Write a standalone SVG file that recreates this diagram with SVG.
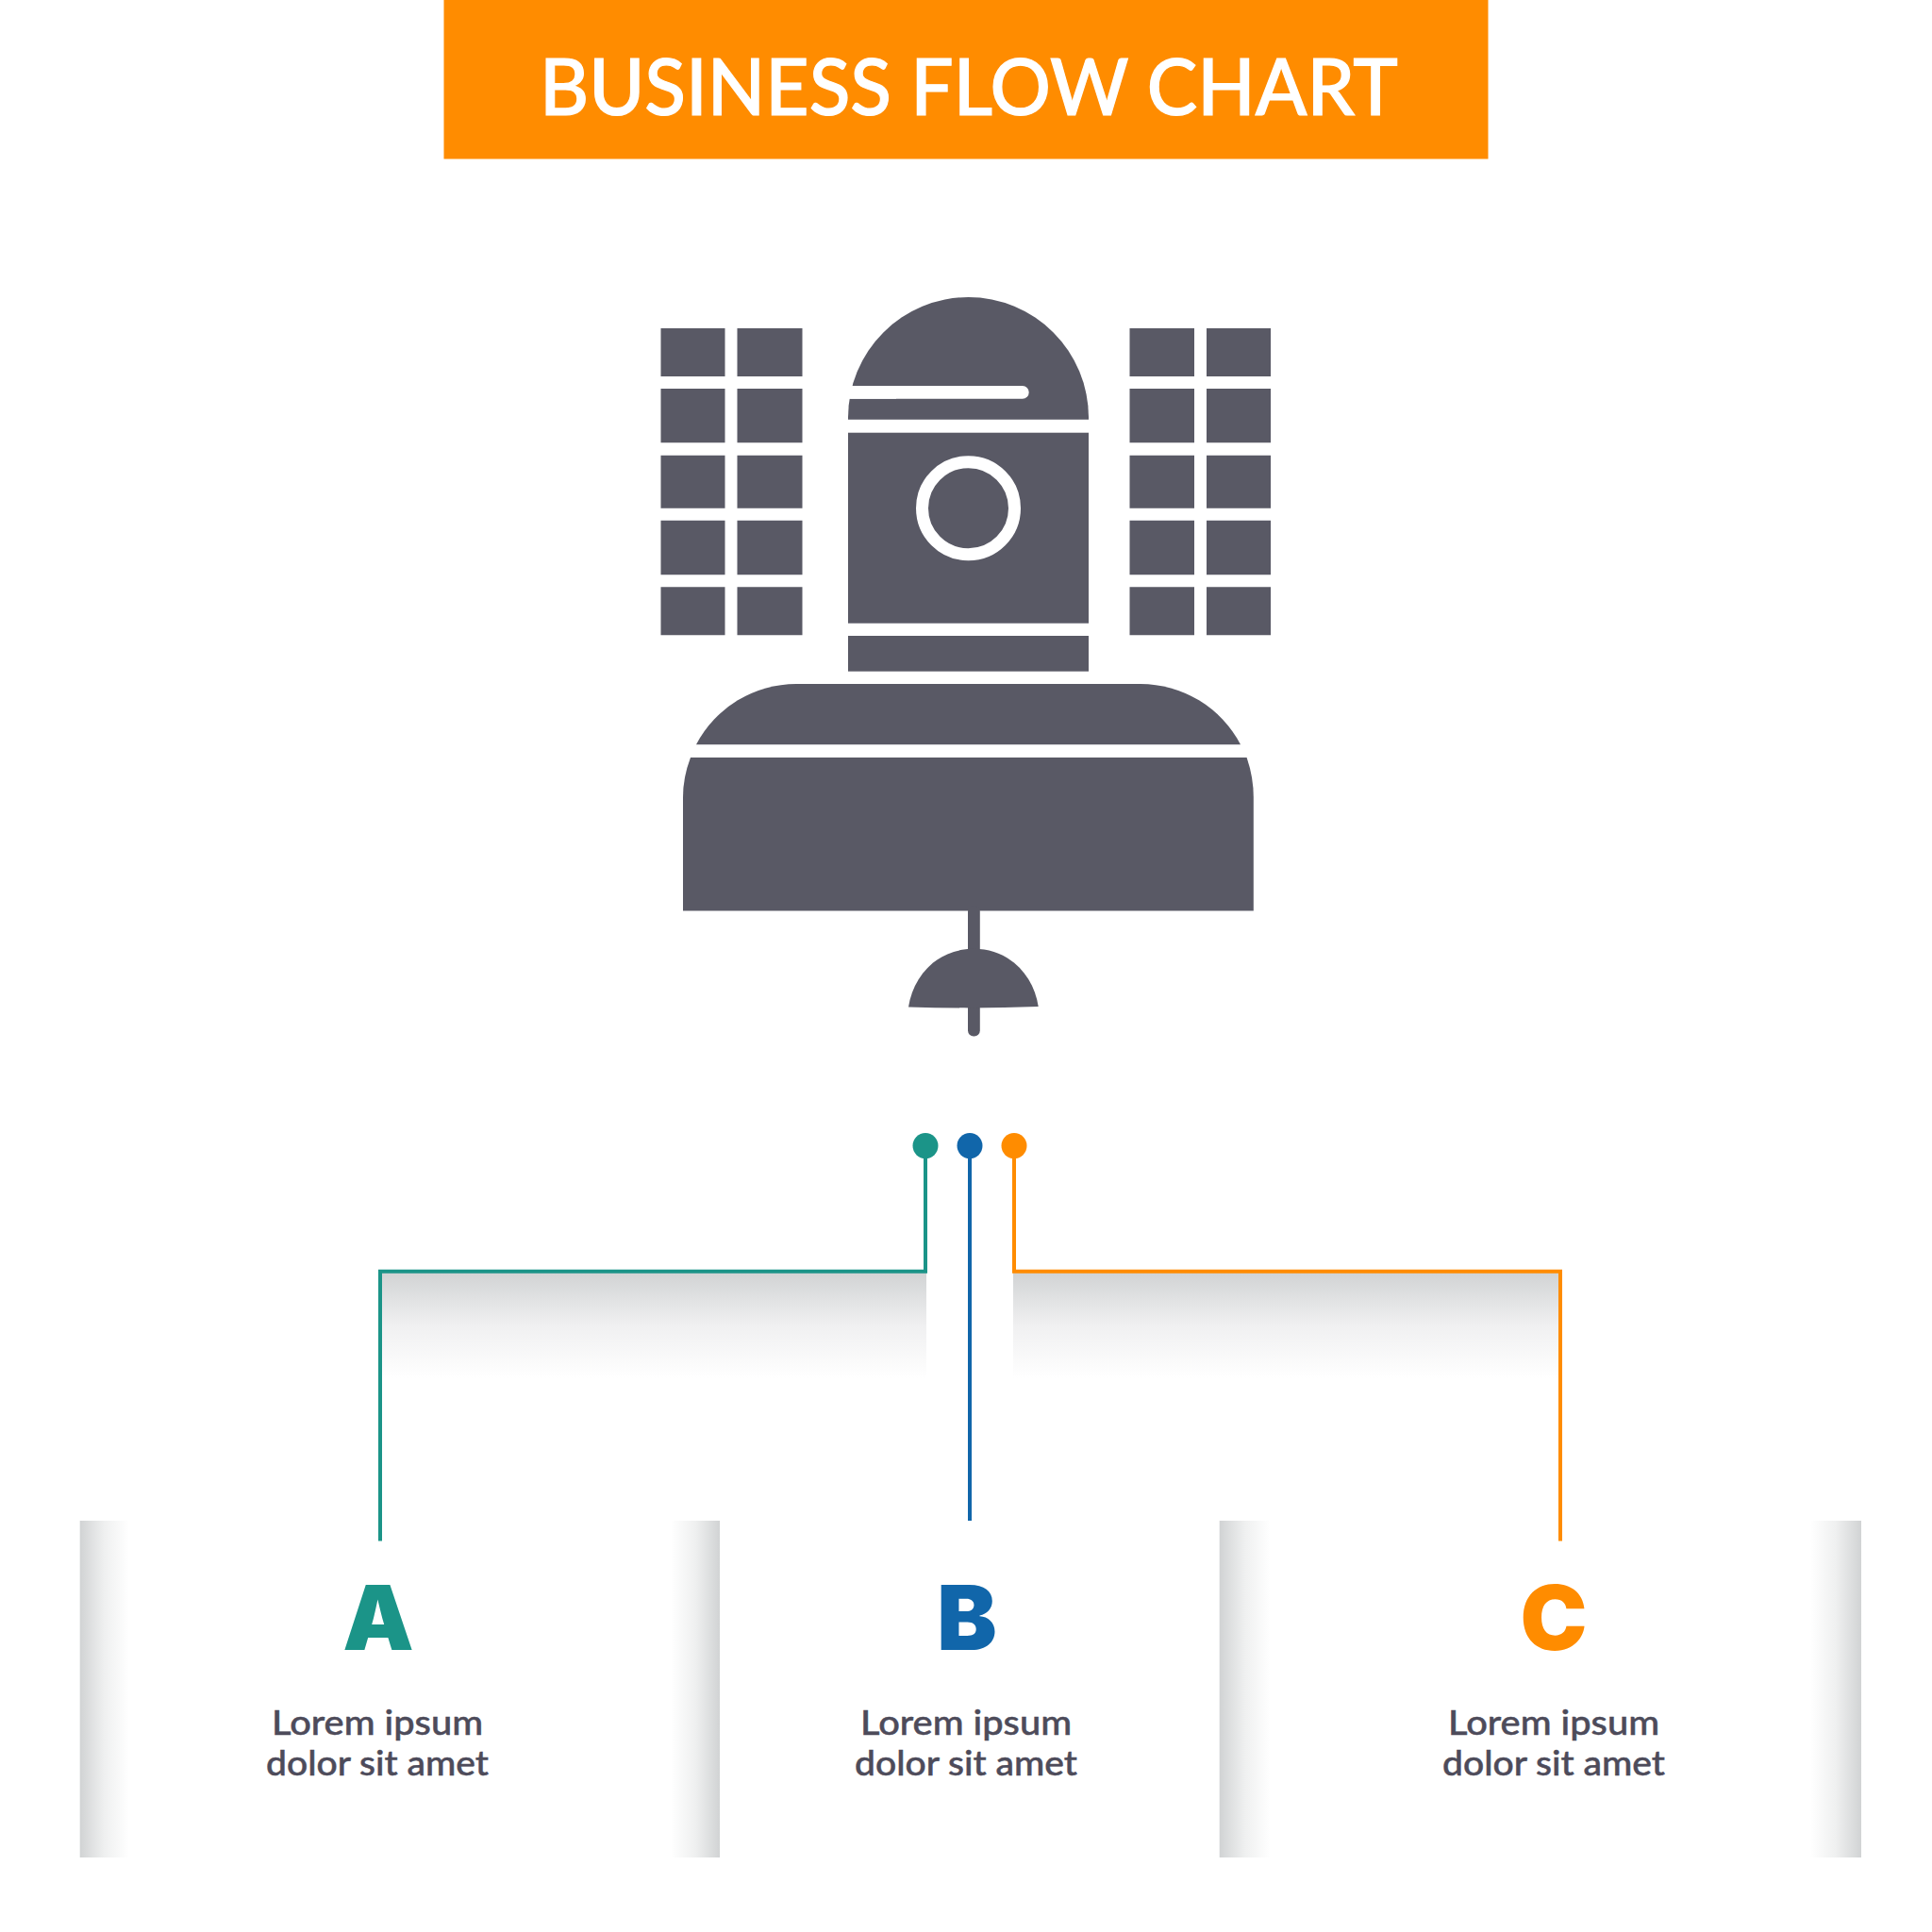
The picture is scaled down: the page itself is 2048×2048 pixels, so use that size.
<svg xmlns="http://www.w3.org/2000/svg" width="2048" height="2048" viewBox="0 0 2048 2048">
<defs>
<linearGradient id="gd" x1="0" y1="0" x2="0" y2="1"><stop offset="0" stop-color="#d1d3d4"/><stop offset="0.5" stop-color="#f0f0f1"/><stop offset="1" stop-color="#fff"/></linearGradient>
<linearGradient id="gl" x1="0" y1="0" x2="1" y2="0"><stop offset="0" stop-color="#d1d3d4"/><stop offset="0.5" stop-color="#eff0f0"/><stop offset="1" stop-color="#fff"/></linearGradient>
<linearGradient id="gr" x1="1" y1="0" x2="0" y2="0"><stop offset="0" stop-color="#d1d3d4"/><stop offset="0.5" stop-color="#eff0f0"/><stop offset="1" stop-color="#fff"/></linearGradient>
</defs>
<style>
.ic{fill:#595965}
.t{font-family:"Lato","Liberation Sans",sans-serif;font-size:37px;font-weight:500;fill:#4d4b5a;stroke:#4d4b5a;stroke-width:.5px;text-anchor:middle}
.l{font-family:"Inter","Liberation Sans",sans-serif;font-size:95px;font-weight:900;text-anchor:middle}
.c{fill:none;stroke-width:4}
</style>
<rect width="2048" height="2048" fill="#fff"/>
<g id="header">
<rect x="470.500" y="0" width="1107" height="168.500" fill="#ff8c00"/>
<text x="1027" y="122" font-family="Lato, 'Liberation Sans', sans-serif" font-size="84" font-weight="500" fill="#fff" stroke="#fff" stroke-width="1.200" text-anchor="middle" textLength="910" lengthAdjust="spacingAndGlyphs">BUSINESS FLOW CHART</text>
</g>
<g id="shadows">
<rect x="403" y="1349" width="579" height="112" fill="url(#gd)"/>
<rect x="1074" y="1349" width="580" height="112" fill="url(#gd)"/>
</g>
<g id="satellite" class="ic">
<path d="M700.500 348h68v51h-68zM781.500 348h69v51h-69zM700.500 412h68v57.300h-68zM781.500 412h69v57.300h-69zM700.500 482.700h68v56h-68zM781.500 482.700h69v56h-69zM700.500 551.700h68v57.600h-68zM781.500 551.700h69v57.600h-69zM700.500 622.300h68v51h-68zM781.500 622.300h69v51h-69z"/>
<path d="M1197.500 348h68.500v51h-68.500zM1279 348h68v51h-68zM1197.500 412h68.500v57.300h-68.500zM1279 412h68v57.300h-68zM1197.500 482.700h68.500v56h-68.500zM1279 482.700h68v56h-68zM1197.500 551.700h68.500v57.600h-68.500zM1279 551.700h68v57.600h-68zM1197.500 622.300h68.500v51h-68.500zM1279 622.300h68v51h-68z"/>
<path d="M899 444.700V442.500A127.500 127.500 0 0 1 1154 442.500V444.700Z"/>
<rect x="895" y="409" width="195.700" height="13.700" rx="6.800" fill="#fff"/>
<rect x="890" y="409" width="60" height="13.700" fill="#fff"/>
<rect x="899" y="458.700" width="255" height="202"/>
<circle cx="1026.500" cy="538.700" r="49" fill="none" stroke="#fff" stroke-width="13"/>
<rect x="899" y="674" width="255" height="37.700"/>
<path d="M738 789.200A120 120 0 0 1 844 725H1209A120 120 0 0 1 1315 789.200Z"/>
<path d="M732 803H1321.600Q1328.800 824 1328.800 845V965.500H724V845Q724 824 732 803Z"/>
<rect x="1026" y="960" width="12.800" height="138.400" rx="6"/>
<path d="M963 1067.400C968 1035 993 1005.800 1032 1005.800C1071 1005.800 1096 1035 1100.700 1067C1055 1068.800 1010 1068.800 963 1067.400Z"/>
</g>
<g id="connectors">
<path class="c" stroke="#1b9488" d="M981 1214V1347.800H403V1633.500"/>
<path class="c" stroke="#1166aa" d="M1028 1214V1612"/>
<path class="c" stroke="#ff8c00" d="M1075 1214V1347.800H1654V1633.500"/>
<circle cx="981" cy="1214.600" r="13.500" fill="#1b9488"/>
<circle cx="1028" cy="1214.600" r="13.500" fill="#1166aa"/>
<circle cx="1075" cy="1214.600" r="13.500" fill="#ff8c00"/>
</g>
<g id="node-a">
<rect x="84.700" y="1612" width="52" height="357" fill="url(#gl)"/>
<rect x="711" y="1612" width="52" height="357" fill="url(#gr)"/>
<text class="l" x="401" y="1749" fill="#1b9488">A</text>
<text class="t" x="400" y="1839" textLength="224" lengthAdjust="spacingAndGlyphs">Lorem ipsum</text>
<text class="t" x="400" y="1882" textLength="236" lengthAdjust="spacingAndGlyphs">dolor sit amet</text>
</g>
<g id="node-b">
<text class="l" x="1025" y="1749" fill="#1166aa">B</text>
<text class="t" x="1024" y="1839" textLength="224" lengthAdjust="spacingAndGlyphs">Lorem ipsum</text>
<text class="t" x="1024" y="1882" textLength="236" lengthAdjust="spacingAndGlyphs">dolor sit amet</text>
</g>
<g id="node-c">
<rect x="1292.700" y="1612" width="54" height="357" fill="url(#gl)"/>
<rect x="1919" y="1612" width="54" height="357" fill="url(#gr)"/>
<text class="l" x="1647" y="1749" fill="#ff8c00">C</text>
<text class="t" x="1647" y="1839" textLength="224" lengthAdjust="spacingAndGlyphs">Lorem ipsum</text>
<text class="t" x="1647" y="1882" textLength="236" lengthAdjust="spacingAndGlyphs">dolor sit amet</text>
</g>
</svg>
